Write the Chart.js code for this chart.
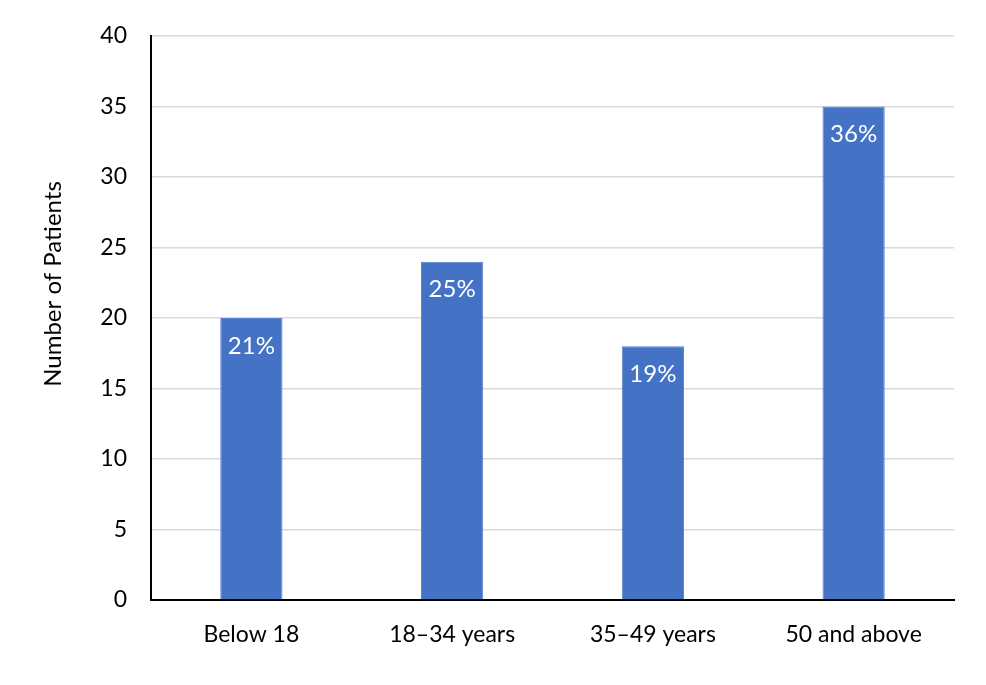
<!DOCTYPE html>
<html>
<head>
<meta charset="utf-8">
<script src="https://cdn.jsdelivr.net/npm/chart.js@4"></script>
<style>
  html, body { margin: 0; padding: 0; background: #fff; }
  #wrap { width: 986px; height: 685px; }
</style>
</head>
<body>
<div id="wrap"><canvas id="ageChart" width="986" height="685"></canvas></div>
<script>
const categories = ['Below 18', '18–34 years', '35–49 years', '50 and above'];
const patients = [20, 24, 18, 35];
const shares = ['21%', '25%', '19%', '36%'];
const yTicks = [0, 5, 10, 15, 20, 25, 30, 35, 40];
const yTitle = 'Number of Patients';

const fontFamily = 'Lato, "Open Sans", sans-serif';

// percentage inside the top of each bar, and the y title (sits a bit above the middle)
const shareLabels = {
  id: 'shareLabels',
  afterDatasetsDraw(chart) {
    const ctx = chart.ctx;
    const meta = chart.getDatasetMeta(0);
    ctx.save();
    ctx.fillStyle = '#ffffff';
    ctx.font = '24px ' + fontFamily;
    ctx.textAlign = 'center';
    ctx.textBaseline = 'middle';
    meta.data.forEach((bar, i) => {
      ctx.fillText(shares[i], bar.x, bar.y + 28);
    });

    ctx.fillStyle = '#000000';
    ctx.translate(53, 284);
    ctx.rotate(-Math.PI / 2);
    ctx.fillText(yTitle, 0, 0);
    ctx.restore();
  }
};

new Chart(document.getElementById('ageChart'), {
  type: 'bar',
  data: {
    labels: categories,
    datasets: [{
      label: 'Number of Patients',
      data: patients,
      backgroundColor: '#4472C4',
      borderColor: '#5a84cf',
      borderWidth: 1,
      barPercentage: 0.62,
      categoryPercentage: 0.5
    }]
  },
  options: {
    responsive: false,
    animation: false,
    layout: { padding: { left: 0, right: 32, top: 30, bottom: 0 } },
    plugins: {
      legend: { display: false },
      tooltip: { enabled: false }
    },
    scales: {
      x: {
        grid: { display: false, drawTicks: false },
        border: { color: '#000000', width: 2 },
        ticks: {
          color: '#000000',
          padding: 21,
          font: { family: fontFamily, size: 23 }
        },
        afterFit: s => { s.height = 85; }
      },
      y: {
        min: 0,
        max: 40,
        afterBuildTicks: s => { s.ticks = yTicks.map(v => ({ value: v })); },
        grid: { color: '#d9d9d9', lineWidth: 1.5, drawTicks: false },
        border: { color: '#000000', width: 2 },
        ticks: {
          color: '#000000',
          padding: 24,
          font: { family: fontFamily, size: 23, lineHeight: 1.05 }
        },
        afterFit: s => { s.width = 151; }
      }
    }
  },
  plugins: [shareLabels]
});
</script>
</body>
</html>
